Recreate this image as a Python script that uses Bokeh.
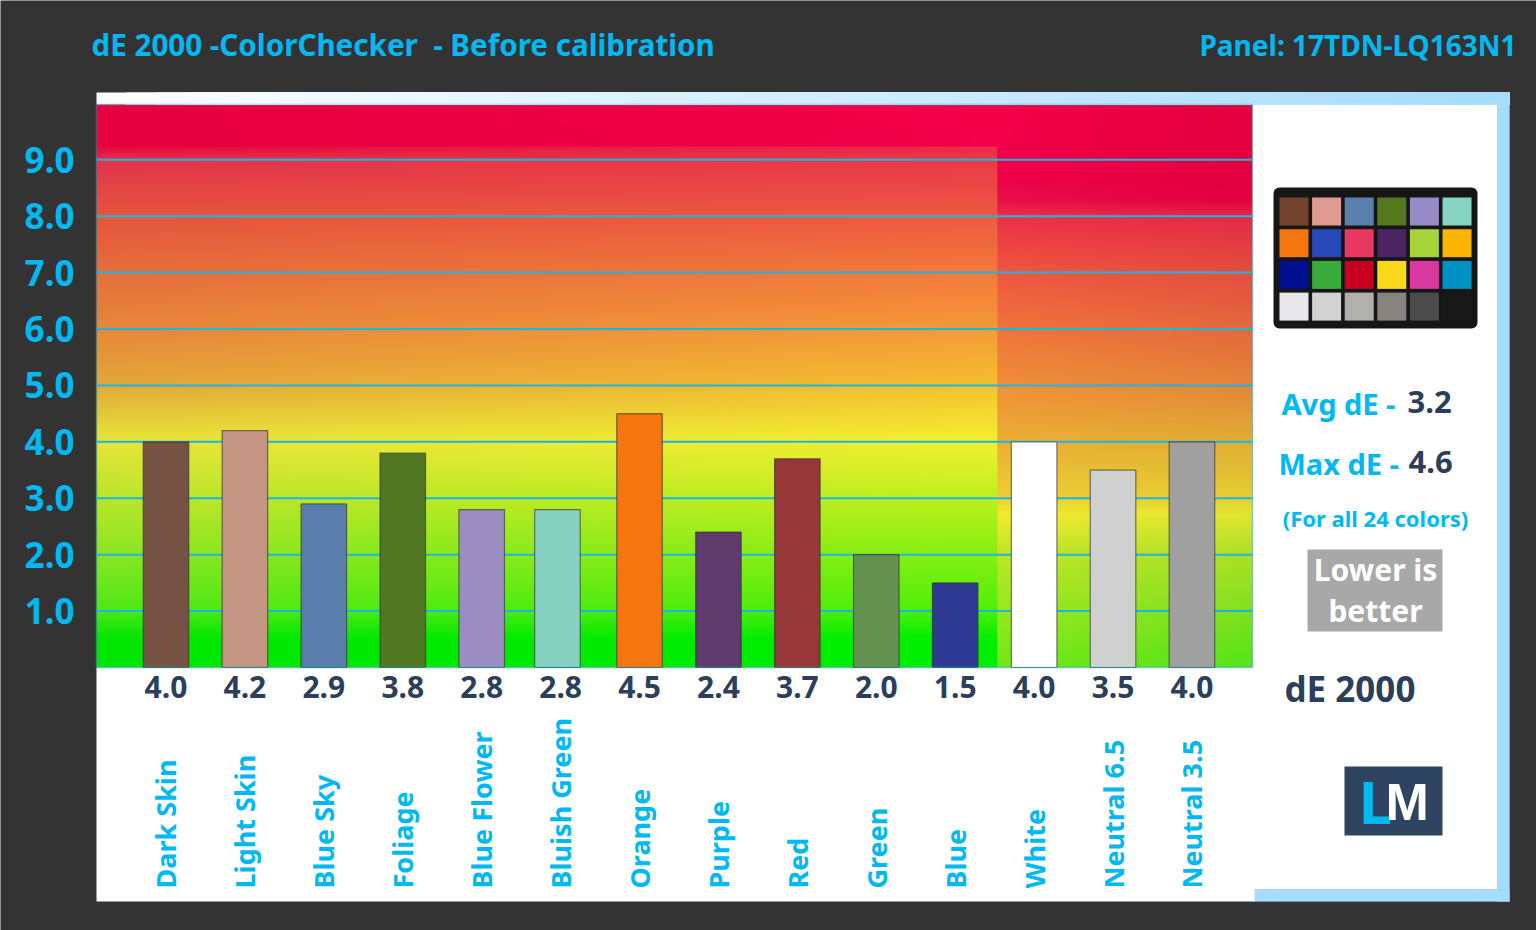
import math
import numpy as np
from bokeh.core.properties import value
from bokeh.embed import file_html
from bokeh.models import BoxAnnotation, ColumnDataSource, FixedTicker, Label, LabelSet, Range1d
from bokeh.plotting import figure
from bokeh.resources import INLINE

# chart data
categories = ["Dark Skin", "Light Skin", "Blue Sky", "Foliage", "Blue Flower", "Bluish Green", "Orange",
              "Purple", "Red", "Green", "Blue", "White", "Neutral 6.5", "Neutral 3.5"]
de_values = [4.0, 4.2, 2.9, 3.8, 2.8, 2.8, 4.5, 2.4, 3.7, 2.0, 1.5, 4.0, 3.5, 4.0]
bar_colors = ["#755243", "#c49582", "#5a7eac", "#527722", "#9b8dc1", "#86d2c0", "#f5750f",
              "#5f3a6c", "#963838", "#65924f", "#2f3a94", "#ffffff", "#d0d0d0", "#a0a0a0"]
y_ticks = [1, 2, 3, 4, 5, 6, 7, 8, 9]
checker_colors = [
    ["#74432d", "#dd9b92", "#5a81ad", "#55781f", "#978bc5", "#84d4c0"],
    ["#f5760c", "#2848b8", "#e8385f", "#4c2464", "#a9d439", "#fbb300"],
    ["#000f91", "#39ab3a", "#c9001d", "#fbd81c", "#d838a0", "#0091c4"],
    ["#e8e8ea", "#d2d2d2", "#b0b0ae", "#85847f", "#4b4b4b", "#181818"],
]

CYAN = "#00b9f2"
NAVY = "#2b3f5c"
DARK = "#333333"
SKY = "#a6ddff"
LINE = "#1cb6e2"
FONT = "Noto Sans"

# background gradient stops: page row -> colour
stop_rows = [104, 145, 146, 160, 216, 272, 328, 385, 441, 497, 553, 610, 640, 667]
left_edge = ["#e6003f", "#e6003f", "#e5053f", "#e2344a", "#e4563e", "#e56f3b", "#e6873a", "#e2a83a",
             "#e6e43a", "#bce52c", "#8de524", "#4fe818", "#00e600", "#00e600"]
left_mid = ["#f5004a", "#f2004a", "#ee2a4c", "#ea3a48", "#ee5a42", "#f47a3c", "#f59a38", "#f5c030",
            "#f3f030", "#c0f020", "#88f010", "#50f008", "#00f000", "#00f000"]
right_rows = [104, 175, 200, 216, 272, 328, 385, 441, 497, 515, 553, 610, 667]
right_mid = ["#f5004a", "#f0004a", "#e8104a", "#ec3048", "#ee5840", "#f0743c", "#ef9038", "#eab035",
             "#efcd33", "#f3ec30", "#c0e528", "#98e820", "#70e818"]
right_edge = ["#e3003f", "#e3003f", "#e3003f", "#e32a45", "#e34f3f", "#e3693c", "#e38538", "#e0ad35",
              "#e5cd33", "#e3e530", "#aee028", "#82e020", "#55e518"]


def rgb(colors):
    return np.array([[int(c[i:i + 2], 16) for i in (1, 3, 5)] for c in colors], dtype=float)


def column(rows, stops, colors):
    table = rgb(colors)
    return np.stack([np.interp(rows, stops, table[:, k]) for k in range(3)], axis=1)


def background():
    # built at half resolution, split at the page column where the right block starts
    rows = 104 + (np.arange(282) + 0.5) * 2
    cols = 96 + (np.arange(578) + 0.5) * 2
    a, b = column(rows, stop_rows, left_edge), column(rows, stop_rows, left_mid)
    c, d = column(rows, right_rows, right_mid), column(rows, right_rows, right_edge)
    img = np.zeros((282, 578, 4), dtype=np.uint8)
    img[:, :, 3] = 255
    for j, x in enumerate(cols):
        if x < 996:
            t = (x - 96) / 900
            col = a * (1 - t) + b * t
        else:
            t = (x - 996) / 256
            col = c * (1 - t) + d * t
        img[:, j, :3] = col[::-1].astype(np.uint8)  # image row 0 is the bottom
    view = np.zeros((282, 578), dtype=np.uint32)
    view.view(np.uint8).reshape((282, 578, 4))[:] = img
    return view


x_index = list(range(len(categories)))
bar_x = [float(i) for i in x_index]
bar_x[5] -= 0.04  # Bluish Green sits a little left in the original

# the frame fills the page so the sheet around the plot can be drawn too,
# the plot rectangle itself spans x_left..x_right and 0..y_top
x_unit, y_unit = 78.92, 56.413
x_left, x_right = -0.8806, 13.767
y_top = 9.98
p = figure(width=1536, height=930, output_backend="svg", toolbar_location=None,
           x_range=Range1d(x_left - 96 / x_unit, x_left + 1440 / x_unit),
           y_range=Range1d(-263 / y_unit, y_top + 104 / y_unit),
           min_border=0, background_fill_color=DARK, border_fill_color=DARK, outline_line_color=None)


def box(x0, y0, x1, y1, color, level="annotation", **kw):
    p.add_layout(BoxAnnotation(left=x0, right=x1, top=y0, bottom=y1,
                               left_units="canvas", right_units="canvas", top_units="canvas", bottom_units="canvas",
                               fill_color=color, fill_alpha=1, line_color=kw.pop("line", None), level=level, **kw))


def text(px, py, s, color, size, align="left", font=FONT, weight="bold"):
    p.add_layout(Label(x=px, y=py, x_units="canvas", y_units="canvas", text=s, text_color=color, text_font=font,
                       text_font_size="%gpx" % size, text_align=align, text_baseline="middle",
                       text_font_style=weight))


# white sheet and pale blue edge around the plot
box(1497, 104, 1509, 901, SKY, "underlay", line="#6fd2f5")
box(1253, 889, 1509, 901, SKY, "underlay", line="#6fd2f5")
box(96, 667, 1254, 901, "#ffffff", "underlay")
box(1252, 104, 1497, 889, "#ffffff", "underlay")
white, sky = np.array([255, 255, 255]), rgb([SKY])[0]
for k in range(48):
    t = k / 47
    c = (white * (1 - t) + sky * t).astype(int)
    box(96 + k * 1413 / 48, 92, 1509, 104, "#%02x%02x%02x" % tuple(c), "underlay")

p.image_rgba(image=[background()], x=x_left, y=0, dw=x_right - x_left, dh=y_top, level="image")
p.segment(x0=[x_left] * len(y_ticks), x1=[x_right] * len(y_ticks), y0=y_ticks, y1=y_ticks,
          line_color=LINE, line_width=2)
p.vbar(x=bar_x, top=de_values, width=0.577, fill_color=bar_colors,
       line_color="#2b2b2b", line_alpha=0.6, line_width=1.2)
box(96, 104, 1252, 667, None, line=LINE, line_width=2)

# axes stay where the plot rectangle is
p.yaxis.fixed_location = x_left
p.xaxis.fixed_location = 0
p.yaxis.ticker = FixedTicker(ticks=y_ticks)
p.yaxis.major_label_overrides = {v: "%.1f" % v for v in y_ticks}
p.yaxis.major_label_text_color = CYAN
p.yaxis.major_label_text_font = FONT
p.yaxis.major_label_text_font_style = "bold"
p.yaxis.major_label_text_font_size = "35px"
p.yaxis.major_label_standoff = 22
p.xaxis.ticker = FixedTicker(ticks=x_index)
p.xaxis.major_label_overrides = {i: "%.1f" % v for i, v in zip(x_index, de_values)}
p.xaxis.major_label_text_color = NAVY
p.xaxis.major_label_text_font = FONT
p.xaxis.major_label_text_font_style = "bold"
p.xaxis.major_label_text_font_size = "30px"
p.xaxis.major_label_standoff = 8
for ax in (p.xaxis, p.yaxis):
    ax.axis_line_color = None
    ax.major_tick_line_color = None
    ax.minor_tick_line_color = None
    ax.major_tick_out = 0
p.grid.visible = False

# rotated colour names, all starting from the same line
names = ColumnDataSource({"x": x_index, "y": [888] * len(categories), "name": categories})
p.add_layout(LabelSet(x="x", y="y", y_units="canvas", text="name", source=names, angle=math.pi / 2, text_align="left",
                      text_baseline="middle", text_color=CYAN, text_font=value(FONT), text_font_style="bold",
                      text_font_size="27px"))

text(91, 44, "dE 2000 -ColorChecker \u00a0- Before calibration", CYAN, 29.6)
text(1516, 44, "Panel: 17TDN-LQ163N1", CYAN, 28, "right")

# colour checker card
box(1273, 187, 1477, 328, "#161616", border_radius=6)
for r, row in enumerate(checker_colors):
    for c, color in enumerate(row):
        x0 = 1279 + c * 32.6
        y0 = 197 + r * 31.7
        box(x0, y0, x0 + 29, y0 + 28, color)

text(1281, 403, "Avg dE -", CYAN, 29)
text(1407, 401, "3.2", NAVY, 31)
text(1278, 463, "Max dE -", CYAN, 29)
text(1408, 461, "4.6", NAVY, 31)
text(1375, 517, "(For all 24 colors)", CYAN, 22, "center")
box(1307, 549, 1442, 631, "#a8a8a8")
text(1375, 569, "Lower is", "#ffffff", 30, "center")
text(1375, 610, "better", "#ffffff", 30, "center")
text(1284, 688, "dE 2000", NAVY, 35)

# LM badge
box(1344, 766, 1442, 835, "#2e4460")
text(1358, 800, "L", CYAN, 60)
text(1385, 801, "M", "#ffffff", 52, "left", "Liberation Sans")

open("out.html", "w").write(file_html(p, INLINE))
